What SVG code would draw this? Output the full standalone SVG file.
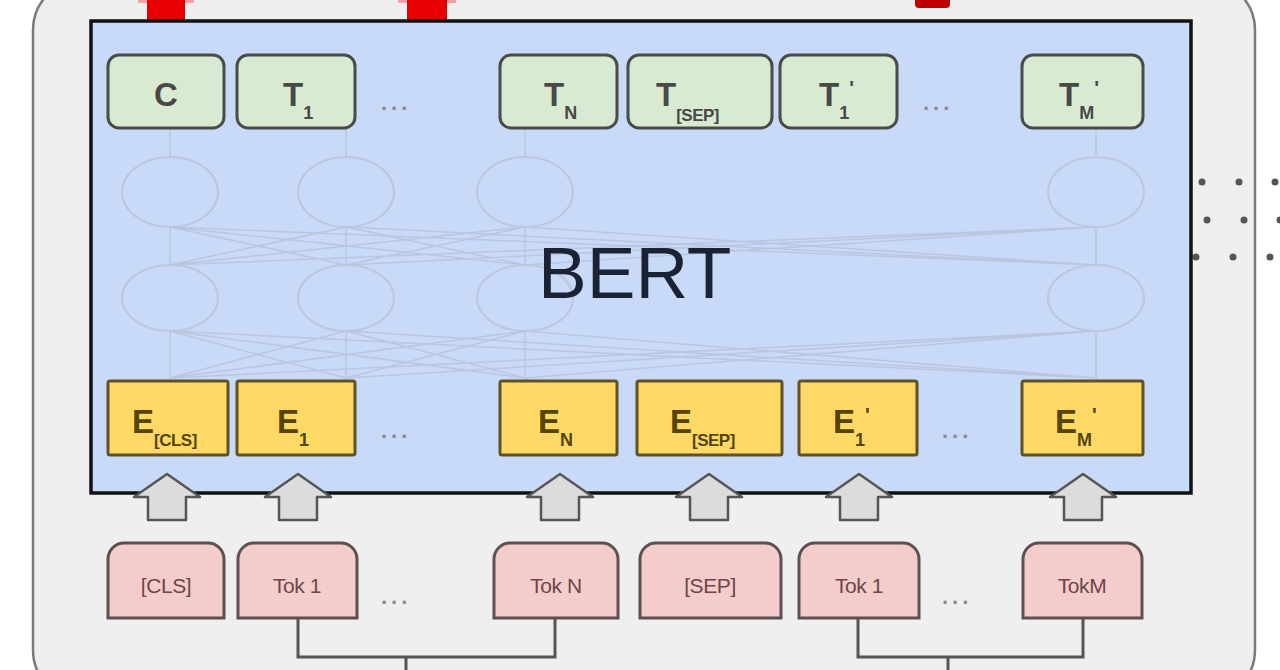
<svg xmlns="http://www.w3.org/2000/svg" width="1280" height="670" viewBox="0 0 1280 670">
<style>
.frame{fill:#efefef;stroke:#7a7a7a;stroke-width:2.5}
.bert{fill:#c9daf8;stroke:#111;stroke-width:3.5}
.tbox{fill:#d9ead3;stroke:#4a4a4a;stroke-width:3}
.ebox{fill:#ffd966;stroke:#5e5326;stroke-width:3}
.tok{fill:#f4cccc;stroke:#5e5050;stroke-width:3}
.arr{fill:#dcdcdc;stroke:#555;stroke-width:2.5;stroke-linejoin:round}
.red{fill:#e80000}
.faint{stroke:#b9c6dd;stroke-width:1.5;fill:none}
.ell{fill:none;stroke:#bac7de;stroke-width:2}
.tl{font-family:"Liberation Sans",Arial,sans-serif;font-weight:bold;font-size:33px;fill:#484848}
.el{font-family:"Liberation Sans",Arial,sans-serif;font-weight:bold;font-size:33px;fill:#544506}
.sub{font-size:18px}
.subb{font-size:17px;letter-spacing:-0.5px}
.pr{font-size:20px}
.tk{font-family:"Liberation Sans",Arial,sans-serif;font-size:21px;fill:#6e4646;text-anchor:middle;letter-spacing:-0.4px}
.dots{font-family:"Liberation Sans",Arial,sans-serif;font-size:22px;font-weight:bold;fill:#8a8a8a;letter-spacing:4px}
.brk{fill:none;stroke:#555;stroke-width:3}
.bt{font-family:"Liberation Sans",Arial,sans-serif;font-size:73px;fill:#1b2233}
.dot{fill:#555}
</style>
<rect width="1280" height="670" fill="#ffffff"/>
<rect class="frame" x="33" y="-20" width="1222" height="720" rx="50"/>
<g id="side-dots">
<circle class="dot" cx="1202" cy="182" r="3.5"/><circle class="dot" cx="1239" cy="182" r="3.5"/><circle class="dot" cx="1275" cy="182" r="3.5"/>
<circle class="dot" cx="1207" cy="220" r="3.5"/><circle class="dot" cx="1244" cy="220" r="3.5"/><circle class="dot" cx="1280" cy="220" r="3.5"/>
<circle class="dot" cx="1196" cy="257" r="3.5"/><circle class="dot" cx="1233" cy="257" r="3.5"/><circle class="dot" cx="1270" cy="257" r="3.5"/>
</g>
<g id="red-outputs">
<rect x="138" y="-2" width="56" height="5" fill="#f4a0a0"/>
<rect x="398" y="-2" width="58" height="5" fill="#f4a0a0"/>
<rect class="red" x="147" y="-2" width="38" height="22"/>
<rect class="red" x="407" y="-2" width="40" height="22"/>
<rect x="915" y="-6" width="35" height="14" rx="4" fill="#c00000"/>
</g>
<g id="bert">
<rect class="bert" x="91" y="21" width="1100" height="472"/>
<g id="transformer">
<ellipse class="ell" cx="170" cy="192" rx="48" ry="35"/>
<ellipse class="ell" cx="346" cy="192" rx="48" ry="35"/>
<ellipse class="ell" cx="525" cy="192" rx="48" ry="35"/>
<ellipse class="ell" cx="1096" cy="192" rx="48" ry="35"/>
<ellipse class="ell" cx="170" cy="298" rx="48" ry="33"/>
<ellipse class="ell" cx="346" cy="298" rx="48" ry="33"/>
<ellipse class="ell" cx="525" cy="298" rx="48" ry="33"/>
<ellipse class="ell" cx="1096" cy="298" rx="48" ry="33"/>
<path class="faint" d="M170,128V157M346,128V157M525,128V157M1096,128V157M170,227V265M346,227V265M525,227V265M1096,227V265M170,331V381M346,331V381M525,331V381M1096,331V381"/>
<path class="faint" d="M170,227L346,265M170,227L525,265M170,227L1096,265M346,227L170,265M346,227L525,265M346,227L1096,265M525,227L170,265M525,227L346,265M525,227L1096,265M1096,227L170,265M1096,227L346,265M1096,227L525,265"/>
<path class="faint" d="M170,331L346,378M170,331L525,378M170,331L1096,378M346,331L170,378M346,331L525,378M346,331L1096,378M525,331L170,378M525,331L346,378M525,331L1096,378M1096,331L170,378M1096,331L346,378M1096,331L525,378"/>
</g>
<text class="bt" x="538" y="298">BERT</text>
</g>
<g id="out-C"><rect class="tbox" x="108" y="55" width="116" height="73" rx="11"/><text class="tl" x="166" y="106" text-anchor="middle">C</text></g>
<g id="out-T1"><rect class="tbox" x="237" y="55" width="118" height="73" rx="11"/><text class="tl" x="283" y="106">T<tspan class="sub" dy="13">1</tspan></text></g>
<text class="dots" x="381" y="110">...</text>
<g id="out-TN"><rect class="tbox" x="500" y="55" width="117" height="73" rx="11"/><text class="tl" x="544" y="106">T<tspan class="sub" dy="13">N</tspan></text></g>
<g id="out-TSEP"><rect class="tbox" x="628" y="55" width="144" height="73" rx="11"/><text class="tl" x="656" y="106">T<tspan class="subb" dy="15">[SEP]</tspan></text></g>
<g id="out-T1p"><rect class="tbox" x="780" y="55" width="117" height="73" rx="11"/><text class="tl" x="819" y="106">T<tspan class="sub" dy="13">1</tspan><tspan class="pr" dy="-24">'</tspan></text></g>
<text class="dots" x="923" y="110">...</text>
<g id="out-TMp"><rect class="tbox" x="1022" y="55" width="121" height="73" rx="11"/><text class="tl" x="1059" y="106">T<tspan class="sub" dy="13">M</tspan><tspan class="pr" dy="-24">'</tspan></text></g>

<g id="emb-CLS"><rect class="ebox" x="108" y="381" width="120" height="74" rx="2"/><text class="el" x="132" y="433">E<tspan class="subb" dy="13">[CLS]</tspan></text></g>
<g id="emb-1"><rect class="ebox" x="237" y="381" width="118" height="74" rx="2"/><text class="el" x="277" y="433">E<tspan class="sub" dy="13">1</tspan></text></g>
<text class="dots" x="381" y="438">...</text>
<g id="emb-N"><rect class="ebox" x="500" y="381" width="117" height="74" rx="2"/><text class="el" x="538" y="433">E<tspan class="sub" dy="13">N</tspan></text></g>
<g id="emb-SEP"><rect class="ebox" x="637" y="381" width="145" height="74" rx="2"/><text class="el" x="670" y="433">E<tspan class="subb" dy="13">[SEP]</tspan></text></g>
<g id="emb-1p"><rect class="ebox" x="799" y="381" width="118" height="74" rx="2"/><text class="el" x="833" y="433">E<tspan class="sub" dy="13">1</tspan><tspan class="pr" dy="-24">'</tspan></text></g>
<text class="dots" x="942" y="438">...</text>
<g id="emb-Mp"><rect class="ebox" x="1022" y="381" width="121" height="74" rx="2"/><text class="el" x="1055" y="433">E<tspan class="sub" dy="13">M</tspan><tspan class="pr" dy="-24">'</tspan></text></g>

<g id="connectors">
<polygon class="arr" points="167,474 200,497 186,497 186,520 148,520 148,497 134,497"/>
<polygon class="arr" points="298,474 331,497 317,497 317,520 279,520 279,497 265,497"/>
<polygon class="arr" points="560,474 593,497 579,497 579,520 541,520 541,497 527,497"/>
<polygon class="arr" points="709,474 742,497 728,497 728,520 690,520 690,497 676,497"/>
<polygon class="arr" points="859,474 892,497 878,497 878,520 840,520 840,497 826,497"/>
<polygon class="arr" points="1083,474 1116,497 1102,497 1102,520 1064,520 1064,497 1050,497"/>
<path class="brk" d="M298,618V657H555V618M406,657V672"/>
<path class="brk" d="M858,618V657H1083V618M948,657V672"/>
</g>

<g id="tok-CLS"><path class="tok" d="M108,618V559A16,16 0 0 1 124,543H208A16,16 0 0 1 224,559V618Z"/><text class="tk" x="166" y="593">[CLS]</text></g>
<g id="tok-1"><path class="tok" d="M238,618V559A16,16 0 0 1 254,543H341A16,16 0 0 1 357,559V618Z"/><text class="tk" x="297" y="593">Tok 1</text></g>
<text class="dots" x="381" y="604">...</text>
<g id="tok-N"><path class="tok" d="M494,618V559A16,16 0 0 1 510,543H602A16,16 0 0 1 618,559V618Z"/><text class="tk" x="556" y="593">Tok N</text></g>
<g id="tok-SEP"><path class="tok" d="M640,618V559A16,16 0 0 1 656,543H765A16,16 0 0 1 781,559V618Z"/><text class="tk" x="710" y="593">[SEP]</text></g>
<g id="tok-1p"><path class="tok" d="M799,618V559A16,16 0 0 1 815,543H903A16,16 0 0 1 919,559V618Z"/><text class="tk" x="859" y="593">Tok 1</text></g>
<text class="dots" x="942" y="604">...</text>
<g id="tok-M"><path class="tok" d="M1023,618V559A16,16 0 0 1 1039,543H1126A16,16 0 0 1 1142,559V618Z"/><text class="tk" x="1082" y="593">TokM</text></g>
</svg>
